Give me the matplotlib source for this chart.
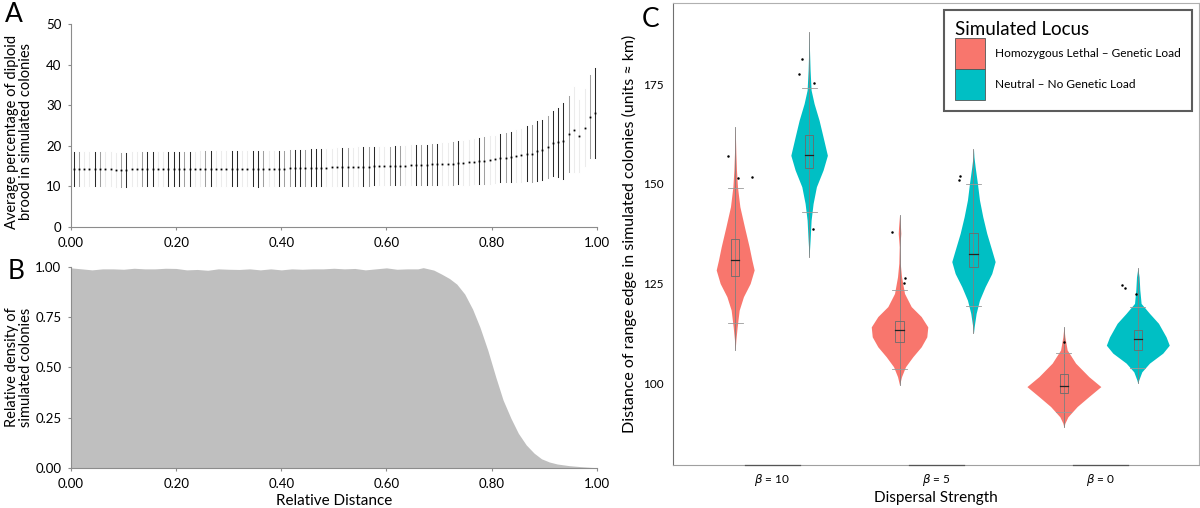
import numpy as np
import matplotlib
matplotlib.use("Agg")
import matplotlib.pyplot as plt
from matplotlib.patches import Patch, Rectangle
import matplotlib.transforms as mtransforms

plt.rcParams['font.family'] = ['Lato', 'DejaVu Sans']
plt.rcParams['mathtext.fontset'] = 'dejavusans'

# ---- panel A: diploid brood vs relative distance (mean +- sd)
brood_mean = [14.2, 14.2, 14.2, 14.2, 14.2, 14.2, 14.2, 14.2, 14.1, 14.1,
              14.1, 14.2, 14.2, 14.2, 14.2, 14.2, 14.2, 14.2, 14.2, 14.2,
              14.2, 14.2, 14.2, 14.2, 14.3, 14.3, 14.3, 14.3, 14.3, 14.3,
              14.3, 14.3, 14.3, 14.3, 14.3, 14.3, 14.4, 14.4, 14.4, 14.4,
              14.4, 14.5, 14.5, 14.5, 14.5, 14.6, 14.6, 14.6, 14.6, 14.7,
              14.7, 14.8, 14.8, 14.8, 14.9, 14.9, 14.9, 15.0, 15.0, 15.0,
              15.0, 15.1, 15.1, 15.1, 15.2, 15.2, 15.3, 15.3, 15.4, 15.4,
              15.5, 15.6, 15.6, 15.8, 15.8, 15.9, 16.1, 16.2, 16.3, 16.5,
              16.7, 17.0, 17.1, 17.3, 17.5, 17.7, 18.1, 18.1, 18.7, 18.9,
              19.7, 20.6, 20.9, 21.2, 22.9, 24.0, 22.4, 24.5, 27.2, 28.0]
brood_sd = [4.2] * 20 + \
           [4.2, 4.2, 4.2, 4.2, 4.3, 4.3, 4.3, 4.3, 4.3, 4.3,
            4.3, 4.3, 4.3, 4.3, 4.3, 4.4, 4.4, 4.4, 4.4, 4.4,
            4.4, 4.4, 4.5, 4.5, 4.5, 4.5, 4.6, 4.6, 4.6, 4.6,
            4.7, 4.7, 4.7, 4.7, 4.7, 4.7, 4.7, 4.7, 4.7, 4.7,
            4.75, 4.8, 4.8, 4.85, 4.9, 4.9, 5.0, 5.0, 5.1, 5.15,
            5.2, 5.2, 5.25, 5.3, 5.4, 5.5, 5.6, 5.7, 5.75, 5.8,
            5.8, 5.85, 5.95, 6.1, 6.3, 6.5, 6.85, 7.0, 7.35, 7.4,
            7.55, 7.95, 8.5, 9.25, 9.4, 10.45, 8.8, 9.5, 10.25, 11.1]
brood_x = np.linspace(0.005, 0.997, len(brood_mean))

# how strongly each error bar shows up in the original (rendering artefact)
dark_bars = [0, 4, 10, 14, 15, 18, 19, 20, 22, 26, 30, 31, 34, 35, 39, 42, 43,
             45, 46, 47, 51, 55, 57, 61, 65, 67, 69, 73, 77, 81, 83, 86, 88,
             89, 91, 92, 93, 99]
gray_bars = [1, 5, 9, 13, 21, 25, 36, 40, 41, 44, 52, 56, 60, 62, 66, 68, 72,
             78, 82, 87, 90, 94, 98]

# ---- panel B: relative density of colonies
dens_x = [0.00, 0.02, 0.04, 0.06, 0.08, 0.10, 0.12, 0.14, 0.16, 0.18, 0.20,
          0.22, 0.24, 0.26, 0.28, 0.30, 0.32, 0.34, 0.36, 0.38, 0.40, 0.42,
          0.44, 0.46, 0.48, 0.50, 0.52, 0.54, 0.56, 0.58, 0.60, 0.62, 0.64,
          0.66, 0.67, 0.68, 0.69, 0.705, 0.72, 0.734, 0.749, 0.764, 0.778,
          0.793, 0.808, 0.822, 0.837, 0.851, 0.866, 0.881, 0.895, 0.91,
          0.925, 0.947, 0.969, 0.99, 1.0]
dens_y = [0.995, 0.99, 0.985, 0.99, 0.99, 0.988, 0.993, 0.99, 0.99, 0.993,
          0.992, 0.985, 0.987, 0.983, 0.99, 0.988, 0.987, 0.99, 0.985, 0.99,
          0.985, 0.99, 0.988, 0.99, 0.99, 0.993, 0.99, 0.992, 0.985, 0.99,
          0.995, 0.988, 0.99, 0.99, 0.996, 0.99, 0.984, 0.964, 0.942, 0.914,
          0.865, 0.79, 0.70, 0.585, 0.453, 0.338, 0.247, 0.173, 0.115, 0.074,
          0.046, 0.030, 0.020, 0.012, 0.007, 0.003, 0.002]

# ---- panel C: range edge distance violins
groups = [r'$\beta$ = 10', r'$\beta$ = 5', r'$\beta$ = 0']
loci = ['Homozygous Lethal \u2013 Genetic Load', 'Neutral \u2013 No Genetic Load']
colors = ['#F8766D', '#00BFC4']

# violin outlines: level (km) and density half-width
lethal10_y = [164.4, 157.7, 153.5, 149.3, 144.3, 139.2, 134.2, 130.9, 128.4,
              125.0, 121.7, 118.3, 114.1, 110.8, 108.3]
lethal10_w = [0, 0.7, 1.3, 2.3, 4.7, 9.3, 14, 16.7, 19, 15, 8.3, 4, 2, 0.7, 0]
neutral10_y = [188.2, 184.4, 178.6, 173.6, 170.2, 166.0, 161.8, 157.2, 153.5,
               149.3, 145.1, 140.9, 135.9, 131.7]
neutral10_w = [0, 0.3, 1, 2, 5, 10, 14, 18.3, 14, 7.3, 4, 2, 1, 0]
lethal5_y = [142.2, 139.0, 137.6, 135.0, 134.2, 130.1, 126.7, 122.5, 119.2,
             116.7, 114.1, 111.6, 109.1, 106.6, 104.1, 101.6, 99.5]
lethal5_w = [0, 1.0, 1.3, 0.5, 0.3, 0.7, 2, 5, 11.7, 21.7, 28.3, 27.3, 21.7,
             13.3, 6, 2, 0]
neutral5_y = [158.9, 156.8, 154.3, 150.1, 146.0, 141.8, 137.6, 133.4, 130.5,
              127.5, 124.2, 120.8, 117.5, 114.1, 112.5]
neutral5_w = [0, 0.5, 1.7, 4, 6, 9.3, 13.3, 18.3, 21.7, 18.3, 11.7, 6, 2.7,
              0.7, 0]
lethal0_y = [114.1, 111.6, 108.3, 105.0, 101.6, 99.1, 96.6, 94.1, 91.5, 89.9,
             88.9]
lethal0_w = [0, 1, 3.3, 11.7, 25, 37, 25, 13.3, 4, 1, 0]
neutral0_y = [128.8, 126.7, 123.4, 120.0, 117.5, 115.0, 111.6, 109.5, 107.5,
              105.0, 102.8, 100.8, 99.9]
neutral0_w = [0, 1.3, 2, 3.3, 11.7, 20.7, 28.3, 31.5, 25, 11.7, 4, 1, 0]

# box stats: whisker low, q1, median, q3, whisker high
lethal_box = [[115.2, 127.0, 130.9, 136.2, 148.9],
              [103.5, 110.2, 113.3, 115.6, 123.4],
              [92.8, 97.4, 99.2, 102.2, 107.6]]
neutral_box = [[142.9, 153.9, 157.4, 162.4, 174.0],
               [119.3, 129.1, 132.3, 137.8, 150.0],
               [103.7, 108.3, 111.0, 113.3, 119.2]]

# outliers: (jitter offset, value)
lethal10_out = [(-0.041, 157.1), (0.016, 151.5), (0.10, 151.8)]
neutral10_out = [(-0.041, 181.3), (-0.063, 177.6), (0.032, 175.3), (0.024, 138.7)]
lethal5_out = [(-0.043, 137.9), (0.036, 126.5), (0.030, 125.1)]
neutral5_out = [(-0.083, 151.9), (-0.091, 151.0)]
lethal0_out = [(0.0, 110.2)]
neutral0_out = [(-0.095, 124.7), (-0.077, 123.9), (-0.012, 122.4)]

fig = plt.figure(figsize=(12, 5.08), dpi=100)

# ---------------- A
axA = fig.add_axes([0.0592, 0.553, 0.438, 0.400])
lo = np.array(brood_mean) - np.array(brood_sd)
hi = np.array(brood_mean) + np.array(brood_sd)
for i in range(len(brood_x)):
    if i in dark_bars:
        c = '#2a2a2a'
    elif i in gray_bars:
        c = '#a0a0a0'
    else:
        c = '#ececec'
    axA.plot([brood_x[i], brood_x[i]], [lo[i], hi[i]], color=c, lw=0.75)
axA.plot(brood_x, brood_mean, 's', color='black', ms=1.3, mew=0)
axA.set_xlim(0, 1)
axA.set_ylim(0, 50)
axA.set_xticks([0, 0.2, 0.4, 0.6, 0.8, 1.0])
axA.set_xticklabels(['0.00', '0.20', '0.40', '0.60', '0.80', '1.00'])
axA.set_yticks([0, 10, 20, 30, 40, 50])
axA.set_ylabel('Average percentage of diploid\nbrood in simulated colonies',
               fontsize=10.5, linespacing=1.0)
axA.yaxis.set_label_coords(-0.072, 0.47)

# ---------------- B
axB = fig.add_axes([0.0592, 0.0787, 0.438, 0.396])
axB.fill_between(dens_x, 0, dens_y, color='#bfbfbf', lw=0)
axB.set_xlim(0, 1)
axB.set_ylim(0, 1)
axB.set_xticks([0, 0.2, 0.4, 0.6, 0.8, 1.0])
axB.set_xticklabels(['0.00', '0.20', '0.40', '0.60', '0.80', '1.00'])
axB.set_yticks([0, 0.25, 0.5, 0.75, 1.0])
axB.set_yticklabels(['0.00', '0.25', '0.50', '0.75', '1.00'])
axB.set_xlabel('Relative Distance', fontsize=11, labelpad=3)
axB.set_ylabel('Relative density of\nsimulated colonies', fontsize=10.5,
               linespacing=1.0)
axB.yaxis.set_label_coords(-0.072, 0.5)

for ax in (axA, axB):
    for s in ('top', 'right'):
        ax.spines[s].set_visible(False)
    for s in ('left', 'bottom'):
        ax.spines[s].set_color('#8c8c8c')
    ax.tick_params(length=2, color='#8c8c8c', labelsize=9.5, pad=5)

# ---------------- C
axC = fig.add_axes([0.561, 0.0846, 0.438, 0.909])
px = 1 / 164.5  # one pixel in category units
dodge = 37 * px

violins = [(0, -1, lethal10_y, lethal10_w, lethal10_out),
           (0, 1, neutral10_y, neutral10_w, neutral10_out),
           (1, -1, lethal5_y, lethal5_w, lethal5_out),
           (1, 1, neutral5_y, neutral5_w, neutral5_out),
           (2, -1, lethal0_y, lethal0_w, lethal0_out),
           (2, 1, neutral0_y, neutral0_w, neutral0_out)]

for g, side, ys, ws, outs in violins:
    xc = g + side * dodge
    col = colors[0] if side < 0 else colors[1]
    ys = np.array(ys)
    ws = np.array(ws) * px
    axC.fill_betweenx(ys, xc - ws, xc + ws, color=col, lw=0, zorder=2)
    axC.plot([xc, xc], [ys.min(), ys.max()], color='#808080', lw=0.6, zorder=3)
    wlo, q1, med, q3, whi = (lethal_box if side < 0 else neutral_box)[g]
    bw = 4.3 * px
    axC.add_patch(Rectangle((xc - bw, q1), 2 * bw, q3 - q1, fill=False,
                            edgecolor='#6b6b6b', lw=0.6, zorder=4))
    axC.plot([xc - bw, xc + bw], [med, med], color='#222222', lw=0.9, zorder=5)
    cw = 7.5 * px
    for w in (wlo, whi):
        axC.plot([xc - cw, xc + cw], [w, w], color='#9a9a9a', lw=0.6, zorder=4)
    for dx, v in outs:
        axC.plot(xc + dx, v, 'o', color='black', ms=1.8, mew=0, zorder=6)

axC.set_xlim(-0.602, 2.596)
axC.set_ylim(79.4, 195.4)
axC.set_yticks([100, 125, 150, 175])
axC.set_xticks([0, 1, 2])
axC.set_xticklabels(groups)
axC.tick_params(length=0, labelsize=8.5, pad=7)
axC.tick_params(axis='x', pad=5)
axC.set_xlabel('Dispersal Strength', fontsize=11, labelpad=2)
axC.set_ylabel('Distance of range edge in simulated colonies (units \u2248 km)',
               fontsize=11.5)
axC.yaxis.set_label_coords(-0.068, 0.5)
for s in ('top', 'right'):
    axC.spines[s].set_color('#b0b0b0')
axC.spines['left'].set_color('#707070')
axC.spines['bottom'].set_color('#a0a0a0')
trans = mtransforms.blended_transform_factory(axC.transData, axC.transAxes)
for g in range(len(groups)):
    axC.plot([g - 0.167, g + 0.167], [0, 0], color='#555555', lw=0.9,
             transform=trans, clip_on=False, zorder=7)

handles = [Patch(facecolor=colors[0], edgecolor='#555555', lw=0.6),
           Patch(facecolor=colors[1], edgecolor='#555555', lw=0.6)]
leg = axC.legend(handles, loci, title='Simulated Locus', loc='upper right',
                 fontsize=8.6, title_fontsize=13.5, handlelength=2.5,
                 handleheight=3.6, labelspacing=0, handletextpad=0.85,
                 borderpad=0.95, borderaxespad=0.55, fancybox=False,
                 alignment='left')
leg.get_frame().set_edgecolor('#333333')
leg.get_frame().set_linewidth(1.5)

fig.text(0.004, 0.972, 'A', fontsize=19, va='center')
fig.text(0.006, 0.465, 'B', fontsize=19, va='center')
fig.text(0.535, 0.962, 'C', fontsize=19, va='center')

fig.savefig('out.png', dpi=100)
